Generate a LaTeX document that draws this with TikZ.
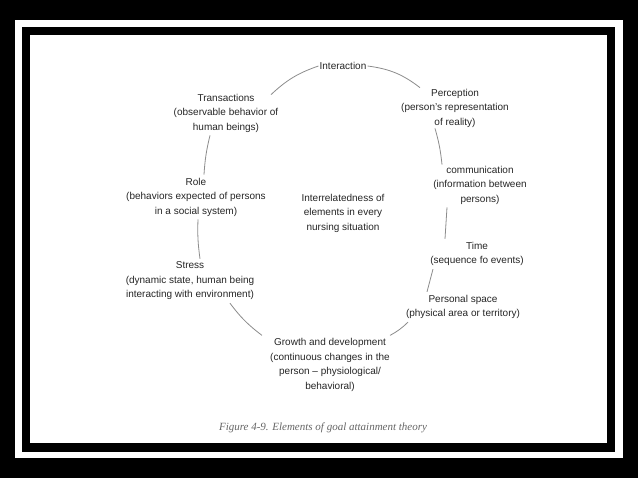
\documentclass[tikz,border=0pt]{standalone}
\usepackage{fontspec}
\setmainfont{Liberation Sans}
\newfontfamily\capfont{Liberation Serif}
\begin{document}
\begin{tikzpicture}[x=1pt,y=-1pt,
  lbl/.style={align=center,font=\fontsize{10}{14.5}\selectfont,text=black!85,inner sep=1pt},
  conn/.style={draw=black!45,line width=0.8pt}]
\fill[black] (0,0) rectangle (638,478);
\useasboundingbox (0,0) rectangle (638,478);
\fill[white] (15,20) rectangle (623,458);
\fill[black] (22,27) rectangle (615,452);
\fill[white] (30,35) rectangle (607,443);
\node[lbl] (int) at (343,66) {Interaction};
\node[lbl] (per) at (455,108) {Perception\\(person's representation\\of reality)};
\node[lbl] (com) at (480,185) {communication\\(information between\\persons)};
\node[lbl] (tim) at (477,254) {Time\\(sequence fo events)};
\node[lbl] (psp) at (463,307) {Personal space\\(physical area or territory)};
\node[lbl] (gro) at (330,365) {Growth and development\\(continuous changes in the\\person -- physiological/\\behavioral)};
\node[lbl] (str) at (190,281) {Stress\\(dynamic state, human being\\interacting with environment)};
\node[lbl] (rol) at (196,197) {Role\\(behaviors expected of persons\\in a social system)};
\node[lbl] (tra) at (226,113) {Transactions\\(observable behavior of\\human beings)};
\node[lbl] (cen) at (343,213) {Interrelatedness of\\elements in every\\nursing situation};
\node[font=\capfont\itshape\fontsize{11}{13}\selectfont,text=black!60] (cap) at (323,428) {Figure 4-9. Elements of goal attainment theory};
\draw[conn] (int.west) to[bend right=12] ([xshift=45pt,yshift=-2pt]tra.north);
\draw[conn] (int.east) to[bend left=15] ([xshift=-35pt]per.north);
\draw[conn] ([xshift=-20pt]per.south) to[bend left=5] ([xshift=-38pt]com.north);
\draw[conn] ([xshift=-33pt,yshift=-2pt]com.south) -- ([xshift=-32pt,yshift=2pt]tim.north);
\draw[conn] ([xshift=-44pt,yshift=-2pt]tim.south) -- ([xshift=-36pt,yshift=2pt]psp.north);
\draw[conn] ([xshift=-55pt,yshift=-2pt]psp.south) to[bend left=8] ([xshift=60pt,yshift=2pt]gro.north);
\draw[conn] ([xshift=-68pt,yshift=2pt]gro.north) to[bend left=8] ([xshift=40pt,yshift=-2pt]str.south);
\draw[conn] ([yshift=2pt,xshift=10pt]str.north) to[bend left=5] ([yshift=-2pt,xshift=2pt]rol.south);
\draw[conn] ([yshift=2pt,xshift=8pt]rol.north) to[bend left=5] ([yshift=-2pt,xshift=-16pt]tra.south);
\end{tikzpicture}
\end{document}
